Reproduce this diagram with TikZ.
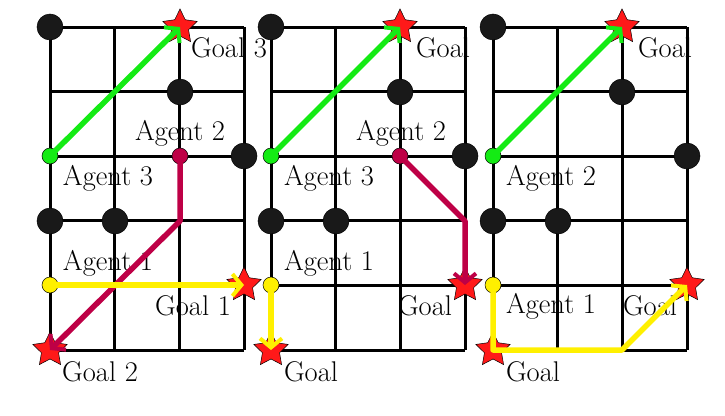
\documentclass[tikz,border=0pt]{standalone}
\usetikzlibrary{shapes.geometric,arrows.meta}
\definecolor{agreen}{RGB}{20,235,20}
\definecolor{ared}{RGB}{190,0,70}
\definecolor{ayellow}{RGB}{255,240,0}
\definecolor{sred}{RGB}{255,25,25}
\definecolor{obs}{RGB}{25,25,25}
\newcommand{\panelgrid}[1]{%
  \foreach \i in {0,1,2,3} \draw[gridline] ({#1+\i*64.67},27) -- ({#1+\i*64.67},350);
  \foreach \j in {0,1,2,3,4,5} \draw[gridline] (#1,{27+\j*64.6}) -- ({#1+194},{27+\j*64.6});}
\begin{document}
\begin{tikzpicture}[x=1pt,y=-1pt,
  gridline/.style={line width=3pt,black},
  obstacle/.style={circle,fill=obs,draw=black,line width=0.5pt,minimum size=26pt,inner sep=0pt},
  agent/.style={circle,draw=black,line width=0.5pt,minimum size=16pt,inner sep=0pt},
  goalstar/.style={star,star points=5,star point ratio=2,fill=sred,draw=black,line width=0.5pt,minimum size=36pt,inner sep=0pt},
  lbl/.style={font=\fontsize{28.5}{32}\selectfont,inner sep=0pt},
  pathline/.style={line width=5.5pt,line cap=round,line join=round,-{Straight Barb[length=9pt,width=22pt,line width=4pt]}}]
\useasboundingbox (0,0) rectangle (725,415);
% ---------- panel 1
\panelgrid{50}
\node[lbl] (l1a) at (229,48) {Goal 3};
\node[lbl] (l1b) at (180,133) {Agent 2};
\node[lbl] (l1c) at (108,178) {Agent 3};
\node[lbl] (l1d) at (108,263) {Agent 1};
\node[lbl] (l1e) at (193,306) {Goal 1};
\node[lbl] (l1f) at (100,372) {Goal 2};
\foreach \p in {(50,27),(180,92),(244,156),(50,221),(115,221)} \node[obstacle] at \p {};
\node[goalstar] (g1a) at (180,27) {};
\node[goalstar] (g1b) at (244,285) {};
\node[goalstar] (g1c) at (50,350) {};
\node[agent,fill=agreen] (a1g) at (50,156) {};
\node[agent,fill=ared] (a1r) at (180,156) {};
\node[agent,fill=ayellow] (a1y) at (50,285) {};
\coordinate (c1r) at (180,221);
\draw[pathline,agreen] (a1g.center) -- (g1a.center);
\draw[pathline,ared] (a1r.center) -- (c1r) -- (g1c.center);
\draw[pathline,ayellow] (a1y.center) -- (g1b.center);
% ---------- panel 2
\panelgrid{271}
\node[lbl] (l2a) at (443,48) {Goal};
\node[lbl] (l2b) at (401,133) {Agent 2};
\node[lbl] (l2c) at (329,178) {Agent 3};
\node[lbl] (l2d) at (329,263) {Agent 1};
\node[lbl] (l2e) at (425,306) {Goal};
\node[lbl] (l2f) at (311,372) {Goal};
\foreach \p in {(271,27),(400,92),(465,156),(271,221),(336,221)} \node[obstacle] at \p {};
\node[goalstar] (g2a) at (400,27) {};
\node[goalstar] (g2b) at (465,285) {};
\node[goalstar] (g2c) at (271,350) {};
\node[agent,fill=agreen] (a2g) at (271,156) {};
\node[agent,fill=ared] (a2r) at (400,156) {};
\node[agent,fill=ayellow] (a2y) at (271,285) {};
\coordinate (c2r) at (465,221);
\draw[pathline,agreen] (a2g.center) -- (g2a.center);
\draw[pathline,ared] (a2r.center) -- (c2r) -- (g2b.center);
\draw[pathline,ayellow] (a2y.center) -- (g2c.center);
% ---------- panel 3
\panelgrid{493}
\node[lbl] (l3a) at (665,48) {Goal};
\node[lbl] (l3c) at (551,178) {Agent 2};
\node[lbl] (l3d) at (551,306) {Agent 1};
\node[lbl] (l3e) at (650,306) {Goal};
\node[lbl] (l3f) at (533,372) {Goal};
\foreach \p in {(493,27),(622,92),(687,156),(493,221),(558,221)} \node[obstacle] at \p {};
\node[goalstar] (g3a) at (622,27) {};
\node[goalstar] (g3b) at (687,285) {};
\node[goalstar] (g3c) at (493,350) {};
\node[agent,fill=agreen] (a3g) at (493,156) {};
\node[agent,fill=ayellow] (a3y) at (493,285) {};
\coordinate (c3y) at (493,350);
\coordinate (c3z) at (622,350);
\draw[pathline,agreen] (a3g.center) -- (g3a.center);
\draw[pathline,ayellow] (a3y.center) -- (c3y) -- (c3z) -- (g3b.center);
\end{tikzpicture}
\end{document}
